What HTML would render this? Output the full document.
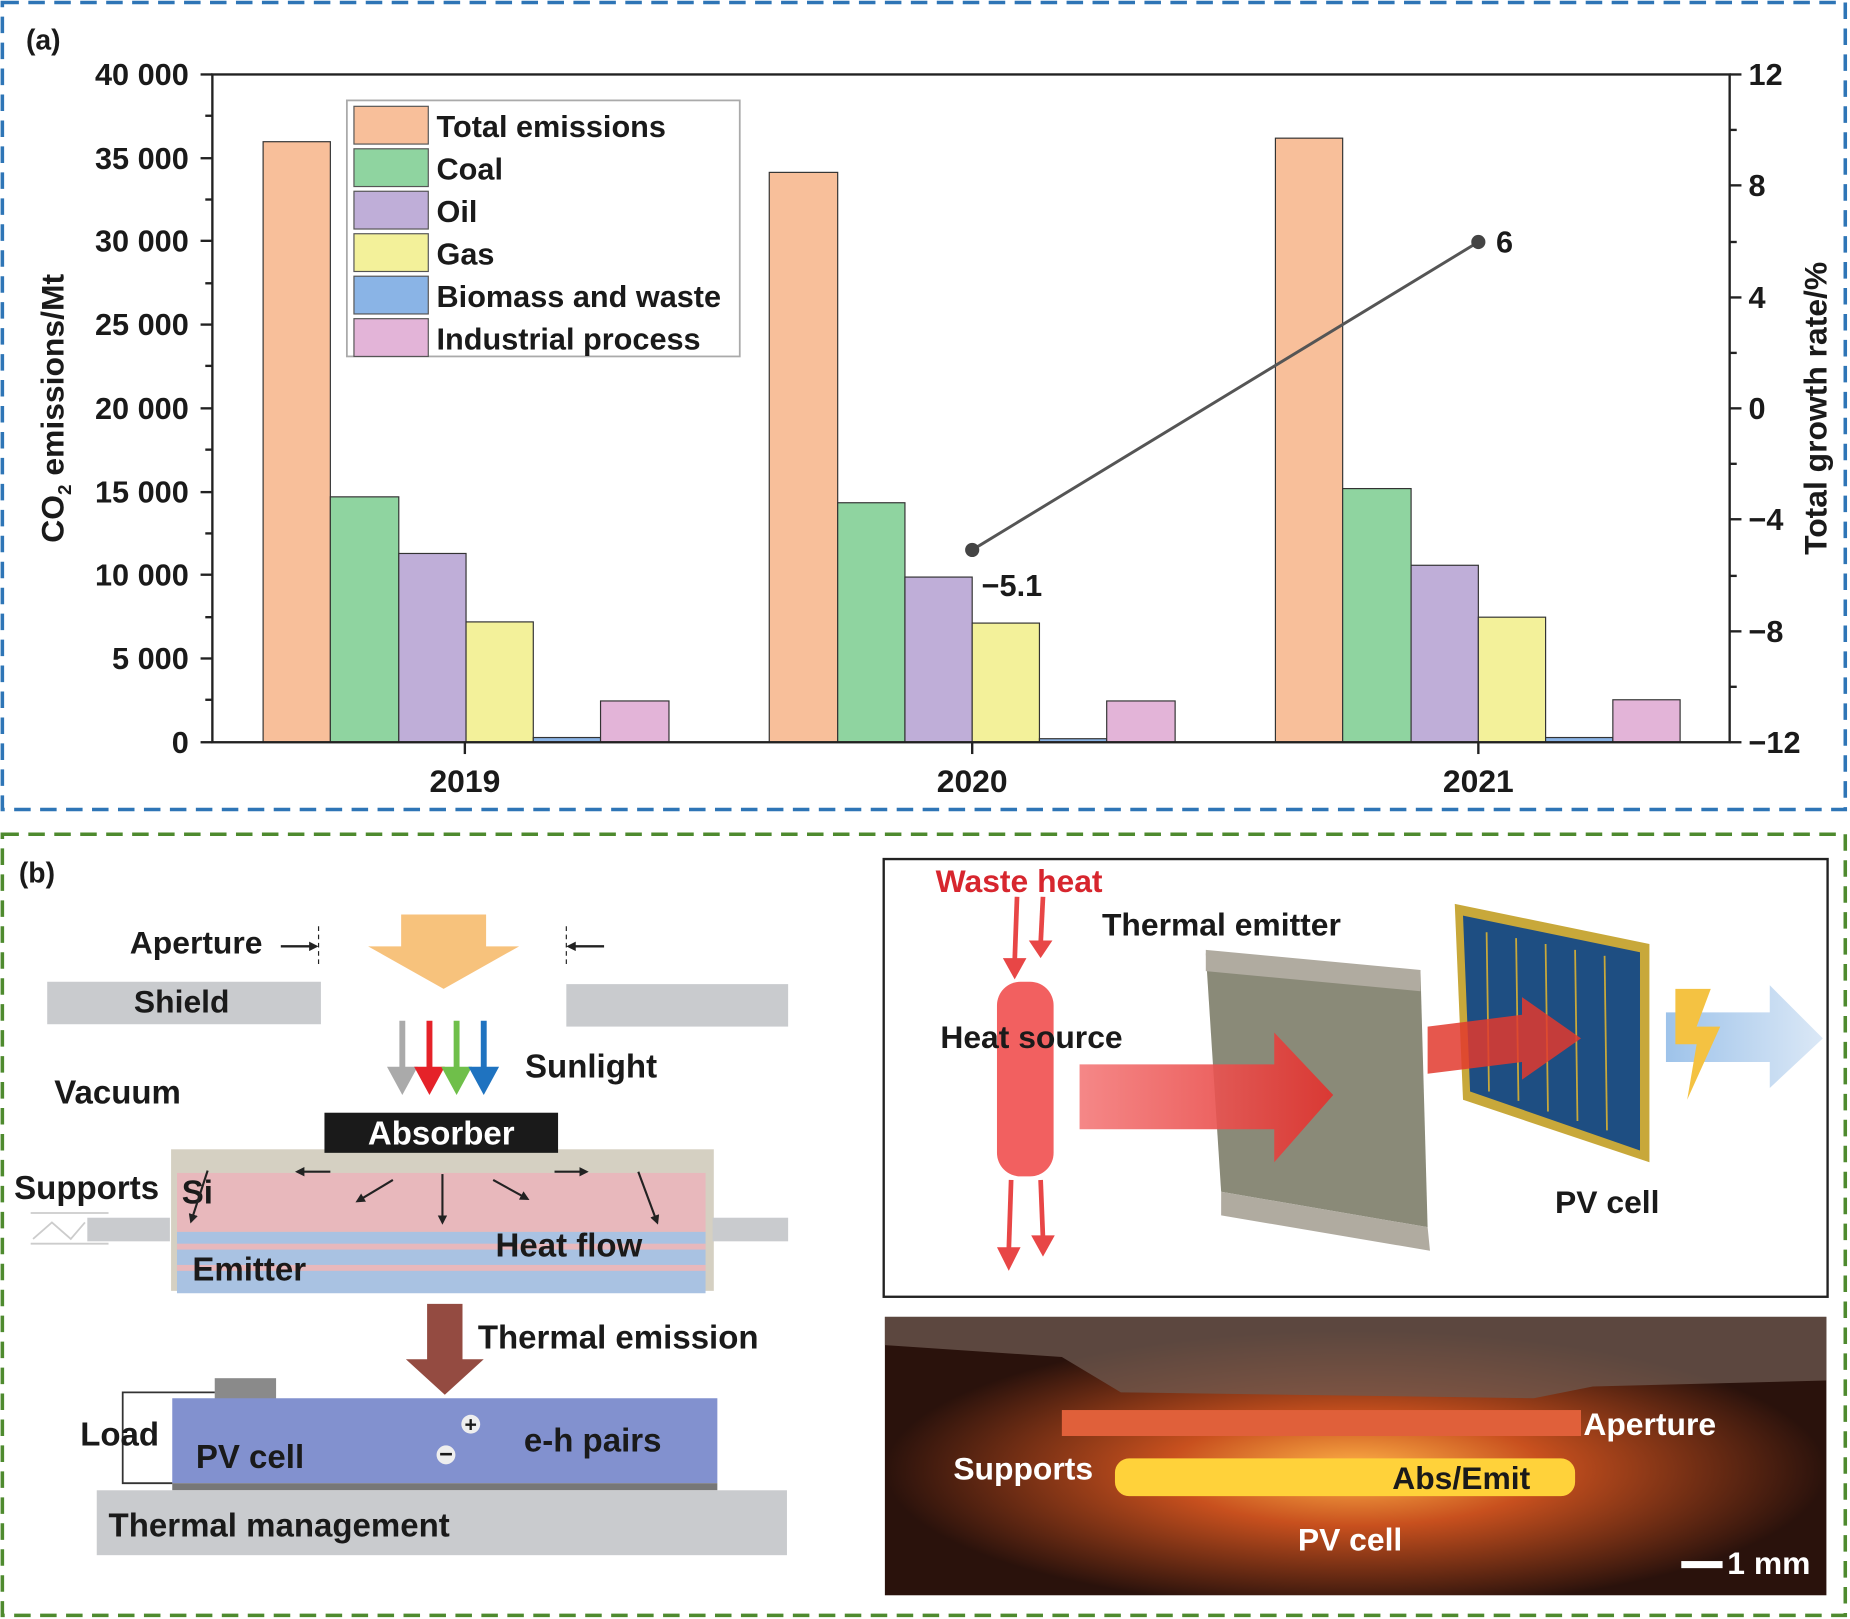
<!DOCTYPE html>
<html><head><meta charset="utf-8"><style>
html,body{margin:0;padding:0;background:#fff}
svg{display:block}
text{font-family:"Liberation Sans",Arial,sans-serif;font-weight:bold;fill:#1a1a1a}
</style></head><body>
<svg width="1850" height="1619" viewBox="0 0 1568 1372" xmlns="http://www.w3.org/2000/svg">
<defs>
<linearGradient id="bigarr" x1="0" x2="1"><stop offset="0" stop-color="#f47a7a"/><stop offset="1" stop-color="#e2302c"/></linearGradient>
<linearGradient id="bluearr" x1="0" x2="1"><stop offset="0" stop-color="#9ec3ea"/><stop offset="1" stop-color="#dbe8f6"/></linearGradient>
<radialGradient id="glow" cx="0.5" cy="0.55" r="0.5"><stop offset="0" stop-color="#ffb347"/><stop offset="0.4" stop-color="#c8501e"/><stop offset="1" stop-color="#2a120c"/></radialGradient>
<marker id="ah" markerWidth="8" markerHeight="8" refX="6" refY="4" orient="auto" markerUnits="userSpaceOnUse"><path d="M0,0 L8,4 L0,8 Z" fill="#222"/></marker>
</defs>
<rect x="2" y="2" width="1562" height="684" fill="none" stroke="#2e75b6" stroke-width="3" stroke-dasharray="14,8"/>
<rect x="2" y="707" width="1562" height="662" fill="none" stroke="#4e8a2e" stroke-width="3" stroke-dasharray="14,8"/>
<text x="22" y="42" font-size="24">(a)</text>
<g stroke="#333" stroke-width="1">
<rect x="223" y="120" width="57" height="509" fill="#f8bf9a"/>
<rect x="280" y="421" width="58" height="208" fill="#8fd4a0"/>
<rect x="338" y="469" width="57" height="160" fill="#bfaed8"/>
<rect x="395" y="527" width="57" height="102" fill="#f3f19a"/>
<rect x="452" y="625" width="57" height="4" fill="#8ab4e6"/>
<rect x="509" y="594" width="58" height="35" fill="#e3b4d8"/>
<rect x="652" y="146" width="58" height="483" fill="#f8bf9a"/>
<rect x="710" y="426" width="57" height="203" fill="#8fd4a0"/>
<rect x="767" y="489" width="57" height="140" fill="#bfaed8"/>
<rect x="824" y="528" width="57" height="101" fill="#f3f19a"/>
<rect x="881" y="626" width="57" height="3" fill="#8ab4e6"/>
<rect x="938" y="594" width="58" height="35" fill="#e3b4d8"/>
<rect x="1081" y="117" width="57" height="512" fill="#f8bf9a"/>
<rect x="1138" y="414" width="58" height="215" fill="#8fd4a0"/>
<rect x="1196" y="479" width="57" height="150" fill="#bfaed8"/>
<rect x="1253" y="523" width="57" height="106" fill="#f3f19a"/>
<rect x="1310" y="625" width="57" height="4" fill="#8ab4e6"/>
<rect x="1367" y="593" width="57" height="36" fill="#e3b4d8"/>
</g>
<rect x="180" y="63" width="1286" height="566" fill="none" stroke="#222" stroke-width="2"/>
<g stroke="#222" stroke-width="2">
<line x1="170" y1="63" x2="180" y2="63"/><line x1="170" y1="134" x2="180" y2="134"/><line x1="170" y1="204" x2="180" y2="204"/><line x1="170" y1="275" x2="180" y2="275"/><line x1="170" y1="346" x2="180" y2="346"/><line x1="170" y1="417" x2="180" y2="417"/><line x1="170" y1="487" x2="180" y2="487"/><line x1="170" y1="558" x2="180" y2="558"/><line x1="170" y1="629" x2="180" y2="629"/>
<line x1="174" y1="98" x2="180" y2="98"/><line x1="174" y1="169" x2="180" y2="169"/><line x1="174" y1="240" x2="180" y2="240"/><line x1="174" y1="310" x2="180" y2="310"/><line x1="174" y1="381" x2="180" y2="381"/><line x1="174" y1="452" x2="180" y2="452"/><line x1="174" y1="523" x2="180" y2="523"/><line x1="174" y1="593" x2="180" y2="593"/>
<line x1="1466" y1="63" x2="1476" y2="63"/><line x1="1466" y1="157" x2="1476" y2="157"/><line x1="1466" y1="252" x2="1476" y2="252"/><line x1="1466" y1="346" x2="1476" y2="346"/><line x1="1466" y1="440" x2="1476" y2="440"/><line x1="1466" y1="535" x2="1476" y2="535"/><line x1="1466" y1="629" x2="1476" y2="629"/>
<line x1="1466" y1="110" x2="1472" y2="110"/><line x1="1466" y1="205" x2="1472" y2="205"/><line x1="1466" y1="299" x2="1472" y2="299"/><line x1="1466" y1="393" x2="1472" y2="393"/><line x1="1466" y1="488" x2="1472" y2="488"/><line x1="1466" y1="582" x2="1472" y2="582"/>
<line x1="394" y1="629" x2="394" y2="639"/><line x1="824" y1="629" x2="824" y2="639"/><line x1="1253" y1="629" x2="1253" y2="639"/>
</g>
<g font-size="26" text-anchor="end">
<text x="160" y="72">40 000</text><text x="160" y="143">35 000</text><text x="160" y="213">30 000</text><text x="160" y="284">25 000</text><text x="160" y="355">20 000</text><text x="160" y="426">15 000</text><text x="160" y="496">10 000</text><text x="160" y="567">5 000</text><text x="160" y="638">0</text>
</g>
<g font-size="26">
<text x="1482" y="72">12</text><text x="1482" y="166">8</text><text x="1482" y="261">4</text><text x="1482" y="355">0</text><text x="1482" y="449">−4</text><text x="1482" y="544">−8</text><text x="1482" y="638">−12</text>
</g>
<g font-size="27" text-anchor="middle"><text x="394" y="671">2019</text><text x="824" y="671">2020</text><text x="1253" y="671">2021</text></g>
<text transform="translate(54,346) rotate(-90)" font-size="27" text-anchor="middle">CO<tspan font-size="16" dy="6">2</tspan><tspan dy="-6"> emissions/Mt</tspan></text>
<text transform="translate(1548,346) rotate(-90)" font-size="27" text-anchor="middle">Total growth rate/%</text>
<line x1="824" y1="466" x2="1253" y2="205" stroke="#555" stroke-width="2.5"/>
<circle cx="824" cy="466" r="6" fill="#444"/><circle cx="1253" cy="205" r="6" fill="#444"/>
<text x="832" y="505" font-size="26">−5.1</text><text x="1268" y="214" font-size="26">6</text>
<rect x="294" y="85" width="333" height="217" fill="#fff" stroke="#aaa" stroke-width="1.5"/>
<g stroke="#555" stroke-width="1">
<rect x="300" y="90" width="63" height="32" fill="#f8bf9a"/><rect x="300" y="126" width="63" height="32" fill="#8fd4a0"/><rect x="300" y="162" width="63" height="32" fill="#bfaed8"/><rect x="300" y="198" width="63" height="32" fill="#f3f19a"/><rect x="300" y="234" width="63" height="32" fill="#8ab4e6"/><rect x="300" y="270" width="63" height="32" fill="#e3b4d8"/>
</g>
<g font-size="26"><text x="370" y="116">Total emissions</text><text x="370" y="152">Coal</text><text x="370" y="188">Oil</text><text x="370" y="224">Gas</text><text x="370" y="260">Biomass and waste</text><text x="370" y="296">Industrial process</text></g>

<text x="16" y="748" font-size="24">(b)</text>
<text x="110" y="808" font-size="27">Aperture</text>
<line x1="238" y1="802" x2="268" y2="802" stroke="#222" stroke-width="2" marker-end="url(#ah)"/>
<line x1="270" y1="785" x2="270" y2="818" stroke="#222" stroke-dasharray="4,3"/>
<line x1="480" y1="785" x2="480" y2="818" stroke="#222" stroke-dasharray="4,3"/>
<line x1="512" y1="802" x2="482" y2="802" stroke="#222" stroke-width="2" marker-end="url(#ah)"/>
<polygon points="340,775 412,775 412,802 440,802 376,838 312,802 340,802" fill="#f7c27c"/>
<rect x="40" y="832" width="232" height="36" fill="#c9cbce"/><text x="154" y="858" font-size="27" text-anchor="middle">Shield</text>
<rect x="480" y="834" width="188" height="36" fill="#c9cbce"/>
<g stroke-width="5"><line x1="341" y1="865" x2="341" y2="910" stroke="#aaa"/><line x1="364" y1="865" x2="364" y2="910" stroke="#e52229"/><line x1="387" y1="865" x2="387" y2="910" stroke="#6fbf4a"/><line x1="410" y1="865" x2="410" y2="910" stroke="#1f73c0"/></g>
<polygon points="328,904 354,904 341,928" fill="#aaa"/><polygon points="351,904 377,904 364,928" fill="#e52229"/><polygon points="374,904 400,904 387,928" fill="#6fbf4a"/><polygon points="397,904 423,904 410,928" fill="#1f73c0"/>
<text x="445" y="913" font-size="28">Sunlight</text>
<text x="46" y="935" font-size="28">Vacuum</text>
<rect x="145" y="974" width="460" height="120" fill="#d5d0c2"/>
<rect x="150" y="994" width="448" height="50" fill="#e8b8bc"/>
<rect x="150" y="1044" width="448" height="52" fill="#a9c2e2"/>
<rect x="150" y="1054" width="448" height="5" fill="#e8b8bc"/><rect x="150" y="1072" width="448" height="5" fill="#e8b8bc"/>
<rect x="275" y="943" width="198" height="34" fill="#1a1a1a"/><text x="374" y="970" font-size="28" text-anchor="middle" style="fill:#fff">Absorber</text>
<text x="12" y="1016" font-size="28">Supports</text><text x="154" y="1020" font-size="28">Si</text>
<rect x="74" y="1032" width="70" height="20" fill="#c9cbce"/><rect x="604" y="1032" width="64" height="20" fill="#c9cbce"/>
<polyline points="28,1050 44,1036 60,1050 72,1036" fill="none" stroke="#ccc" stroke-width="1.5"/>
<line x1="26" y1="1028" x2="92" y2="1028" stroke="#ccc" stroke-width="1.5"/><line x1="26" y1="1054" x2="92" y2="1054" stroke="#ccc" stroke-width="1.5"/>
<g stroke="#222" stroke-width="1.8" marker-end="url(#ah)"><line x1="176" y1="992" x2="162" y2="1035"/><line x1="280" y1="993" x2="252" y2="993"/><line x1="333" y1="1000" x2="303" y2="1018"/><line x1="375" y1="995" x2="375" y2="1036"/><line x1="418" y1="1000" x2="447" y2="1016"/><line x1="470" y1="993" x2="497" y2="993"/><line x1="541" y1="993" x2="557" y2="1036"/></g>
<text x="163" y="1085" font-size="28">Emitter</text><text x="420" y="1065" font-size="28">Heat flow</text>
<polygon points="362,1105 392,1105 392,1152 410,1152 377,1182 344,1152 362,1152" fill="#944b41"/>
<text x="405" y="1143" font-size="28">Thermal emission</text>
<rect x="182" y="1168" width="52" height="18" fill="#8a8a8a"/>
<rect x="146" y="1185" width="462" height="72" fill="#8291cf"/>
<rect x="146" y="1257" width="462" height="6" fill="#777"/>
<rect x="82" y="1263" width="585" height="55" fill="#c9cbce"/>
<polyline points="182,1180 104,1180 104,1257 146,1257" fill="none" stroke="#333" stroke-width="1.5"/>
<text x="68" y="1225" font-size="28">Load</text><text x="166" y="1244" font-size="28">PV cell</text><text x="444" y="1230" font-size="28">e-h pairs</text>
<circle cx="399" cy="1207" r="8" fill="#eee"/><circle cx="378" cy="1233" r="8" fill="#eee"/>
<text x="399" y="1213" font-size="18" text-anchor="middle">+</text><text x="378" y="1239" font-size="20" text-anchor="middle">−</text>
<text x="92" y="1302" font-size="28">Thermal management</text>

<rect x="749" y="728" width="800" height="371" fill="#fff" stroke="#222" stroke-width="2"/>
<g stroke="#e84646" stroke-width="4"><line x1="862" y1="760" x2="860" y2="815"/><line x1="884" y1="760" x2="882" y2="800"/><line x1="857" y1="1000" x2="855" y2="1060"/><line x1="882" y1="1000" x2="884" y2="1050"/></g>
<polygon points="850,812 870,812 860,830" fill="#e84646"/><polygon points="872,797 892,797 882,812" fill="#e84646"/>
<polygon points="845,1057 865,1057 855,1077" fill="#e84646"/><polygon points="874,1047 894,1047 884,1065" fill="#e84646"/>
<rect x="845" y="832" width="48" height="165" rx="20" fill="#f26060"/>
<polygon points="1022,808 1204,825 1210,1040 1035,1010" fill="#8a8a78"/>
<polygon points="1022,805 1204,822 1204,840 1022,823" fill="#b0aba0"/>
<polygon points="1035,1010 1210,1040 1212,1060 1035,1030" fill="#b0aba0"/>
<polygon points="915,902 1080,902 1080,875 1130,928 1080,985 1080,957 915,957" fill="url(#bigarr)" opacity="0.9"/>
<polygon points="1233,766 1398,800 1398,985 1240,932" fill="#c8a83a"/>
<polygon points="1240,776 1390,807 1390,975 1246,925" fill="#1e4e82"/>
<g stroke="#c8a83a" stroke-width="1.5"><line x1="1260" y1="790" x2="1262" y2="925"/><line x1="1285" y1="795" x2="1287" y2="933"/><line x1="1310" y1="800" x2="1312" y2="942"/><line x1="1335" y1="805" x2="1337" y2="950"/><line x1="1360" y1="810" x2="1362" y2="958"/></g>
<polygon points="1210,870 1290,860 1290,845 1340,880 1290,915 1290,900 1210,910" fill="#e23a2e" opacity="0.85"/>
<polygon points="1412,858 1500,858 1500,835 1545,880 1500,922 1500,900 1412,900" fill="url(#bluearr)"/>
<polygon points="1420,838 1450,838 1438,870 1458,870 1430,932 1438,885 1420,885" fill="#f4c242"/>
<text x="793" y="756" font-size="27" style="fill:#d7262e">Waste heat</text>
<text x="934" y="793" font-size="27">Thermal emitter</text>
<text x="797" y="888" font-size="27">Heat source</text>
<text x="1318" y="1028" font-size="27">PV cell</text>

<rect x="750" y="1116" width="798" height="236" fill="url(#glow)"/>
<polygon points="750,1116 1548,1116 1548,1170 1350,1175 1300,1185 950,1180 900,1150 750,1140" fill="#6d5a50" opacity="0.75"/>
<rect x="900" y="1195" width="440" height="22" fill="#e0603a"/>
<rect x="945" y="1236" width="390" height="32" rx="12" fill="#ffd23a"/>
<rect x="1425" y="1323" width="35" height="6" fill="#fff"/>
<g font-size="27"><text x="1342" y="1216" style="fill:#fff">Aperture</text><text x="808" y="1254" style="fill:#fff">Supports</text><text x="1180" y="1262" style="fill:#1a1a1a">Abs/Emit</text><text x="1100" y="1314" style="fill:#fff">PV cell</text><text x="1464" y="1334" style="fill:#fff">1 mm</text></g>
</svg>
</body></html>
